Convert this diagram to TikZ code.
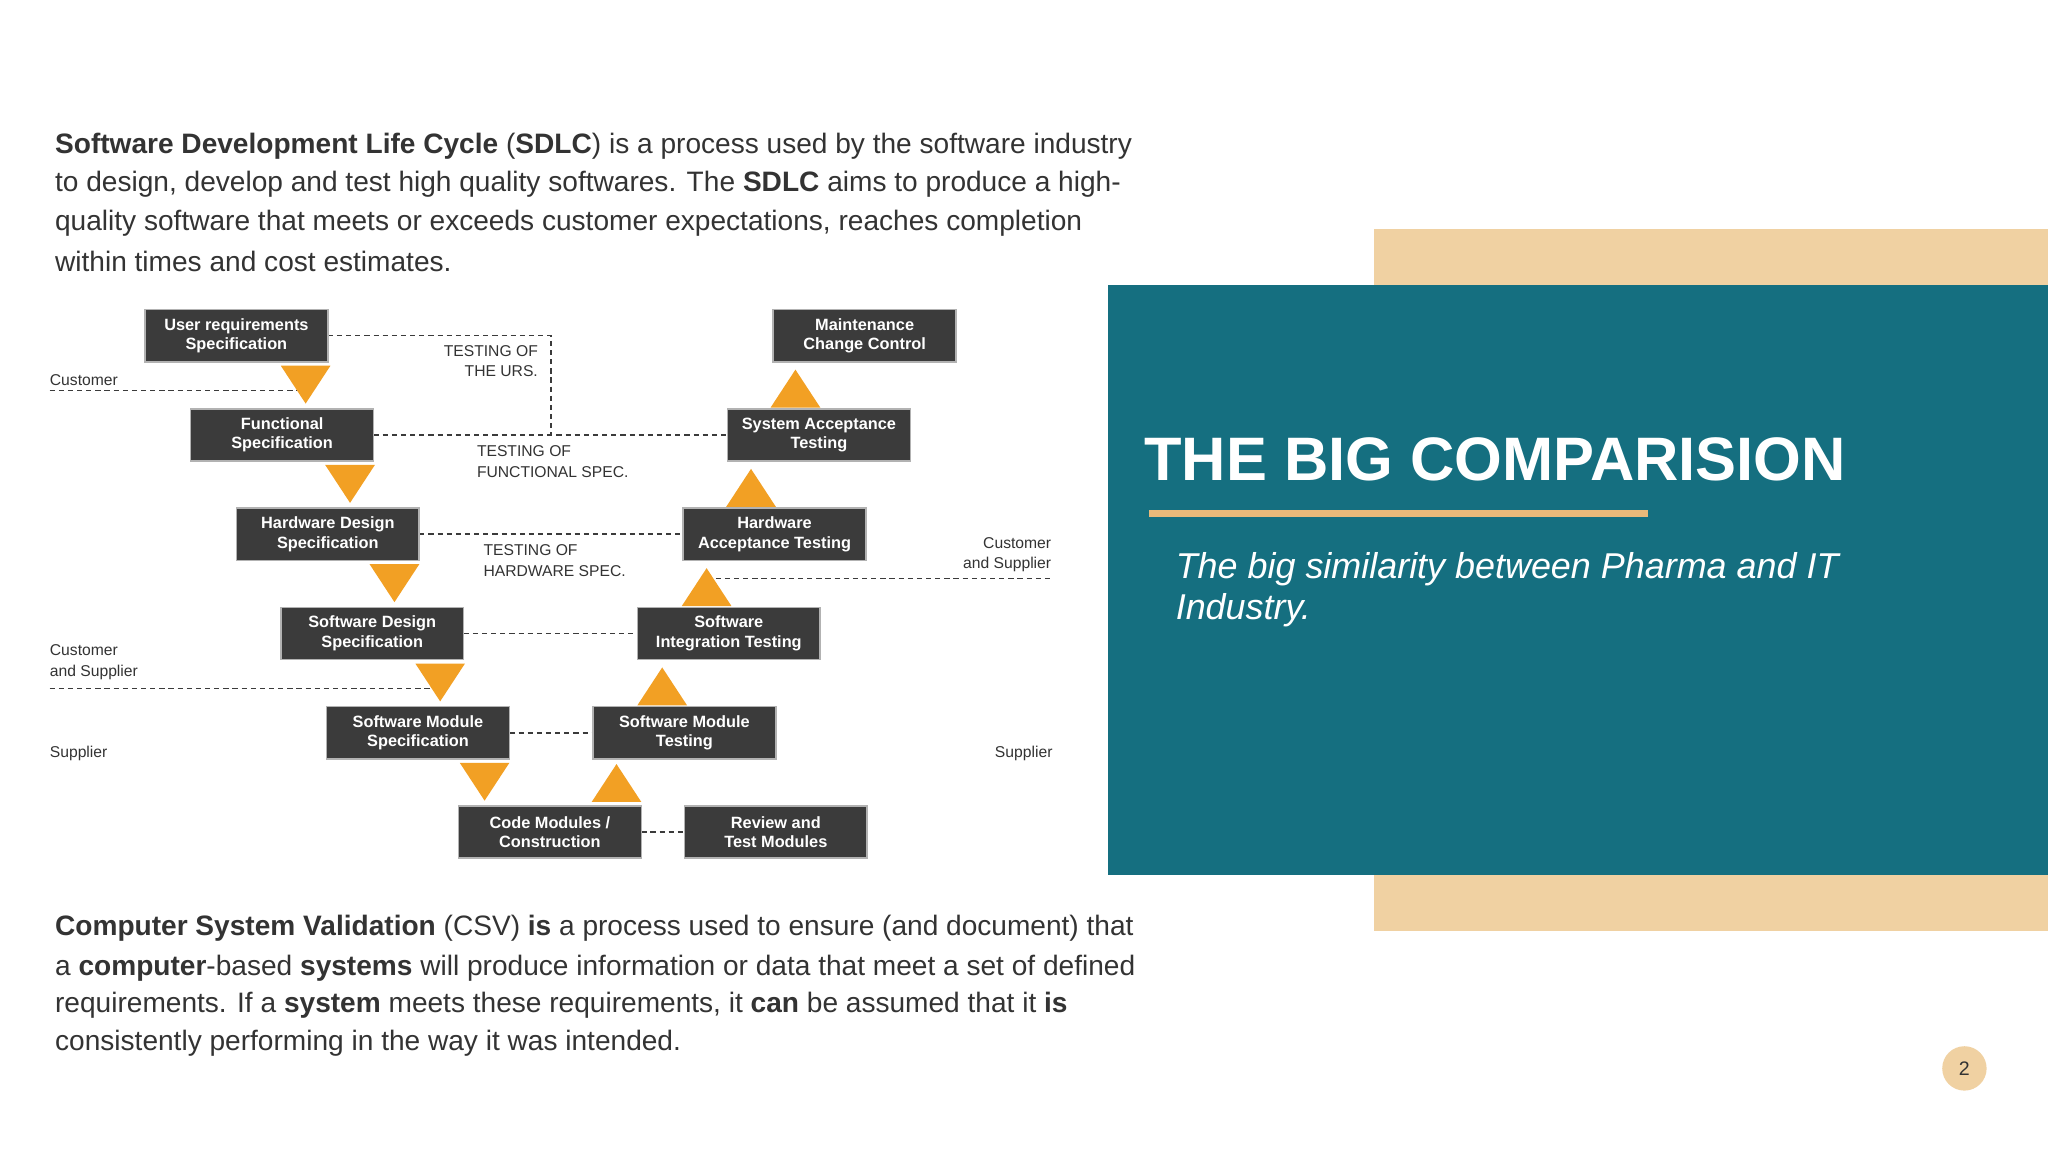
\documentclass[tikz,border=0pt]{standalone}
\usepackage{fontspec}
\setmainfont{Liberation Sans}
\usetikzlibrary{shapes.geometric}
\definecolor{teal}{HTML}{156F80}
\definecolor{beige}{HTML}{F0D1A2}
\definecolor{ulin}{HTML}{E9B97A}
\definecolor{txt}{HTML}{333333}
\definecolor{boxc}{HTML}{3B3B3B}
\definecolor{tri}{HTML}{F2A024}
\tikzset{
 para/.style={anchor=west,inner sep=0,text=txt,font=\fontsize{21.5}{26}\selectfont},
 vbox/.style={draw=gray!60,line width=1.2pt,fill=boxc,text=white,minimum width=140pt,minimum height=40pt,align=center,inner sep=0,font=\bfseries\fontsize{12.5}{15}\selectfont},
 lab/.style={inner sep=0,text=txt,font=\fontsize{12}{16}\selectfont},
 dl/.style={dashed,line width=1.2pt,draw=boxc,dash pattern=on 4pt off 3pt},
}
\begin{document}
\begin{tikzpicture}[x=1pt,y=-1pt]
\useasboundingbox (0,0) rectangle (1568,882);
\fill[white] (0,0) rectangle (1568,882);
% right panel
\fill[beige] (1052,175) rectangle (1568,713);
\fill[teal] (848,218) rectangle (1568,670);
\node[anchor=west,inner sep=0,text=white,font=\bfseries\fontsize{47}{50}\selectfont] (title) at (876,352) {THE BIG COMPARISION};
\draw[ulin,line width=5pt] (880,393) -- (1262,393);
\node[anchor=north west,inner sep=0,text=white,align=left,font=\itshape\fontsize{27.5}{31.5}\selectfont] (sub) at (900,423) {The big similarity between Pharma and IT\\Industry.};
\node[circle,fill=beige,minimum size=34pt,inner sep=0,text=txt,font=\fontsize{15}{15}\selectfont] (pg) at (1504,818) {2};
% paragraphs
\node[para] (p1) at (42,112) {\textbf{Software Development Life Cycle} (\textbf{SDLC}) is a process used by the software industry};
\node[para] (p2) at (42,141) {to design, develop and test high quality softwares. The \textbf{SDLC} aims to produce a high-};
\node[para] (p3) at (42,171) {quality software that meets or exceeds customer expectations, reaches completion};
\node[para] (p4) at (42,200) {within times and cost estimates.};
\node[para] (q1) at (42,711) {\textbf{Computer System Validation} (CSV) \textbf{is} a process used to ensure (and document) that};
\node[para] (q2) at (42,741) {a \textbf{computer}-based \textbf{systems} will produce information or data that meet a set of defined};
\node[para] (q3) at (42,770) {requirements. If a \textbf{system} meets these requirements, it \textbf{can} be assumed that it \textbf{is}};
\node[para] (q4) at (42,799) {consistently performing in the way it was intended.};
% dashed lines
\coordinate (c1) at (422,257);
\coordinate (c2) at (422,333);
\draw[dl] (181,257) -- (c1) -- (c2);
\draw[dl] (216,333) -- (627,333);
\draw[dl] (251,409) -- (593,409);
\draw[dl] (285,485) -- (558,485);
\draw[dl] (320,561) -- (524,561);
\draw[dl] (421,637) -- (594,637);
\coordinate (l1a) at (38,299); \coordinate (l1b) at (228,299);
\draw[dl] (l1a) -- (l1b);
\coordinate (l2a) at (38,527); \coordinate (l2b) at (330,527);
\draw[dl] (l2a) -- (l2b);
\coordinate (l3a) at (548,443); \coordinate (l3b) at (806,443);
\draw[dl] (l3a) -- (l3b);
% triangles
\foreach \x/\y in {234/280,268/356,302/432,337/508,371/584}
  \fill[tri] (\x-19,\y) -- (\x+19,\y) -- (\x,\y+29) -- cycle;
\foreach \x/\y in {472/614,507/540,541/464,575/388,609/312}
  \fill[tri] (\x-19,\y) -- (\x+19,\y) -- (\x,\y-29) -- cycle;
% boxes
\node[vbox] (urs) at (181,257) {User requirements\\Specification};
\node[vbox] (fs) at (216,333) {Functional\\Specification};
\node[vbox] (hds) at (251,409) {Hardware Design\\Specification};
\node[vbox] (sds) at (285,485) {Software Design\\Specification};
\node[vbox] (sms) at (320,561) {Software Module\\Specification};
\node[vbox] (cm) at (421,637) {Code Modules /\\Construction};
\node[vbox] (rt) at (594,637) {Review and\\Test Modules};
\node[vbox] (smt) at (524,561) {Software Module\\Testing};
\node[vbox] (sit) at (558,485) {Software\\Integration Testing};
\node[vbox] (hat) at (593,409) {Hardware\\Acceptance Testing};
\node[vbox] (sat) at (627,333) {System Acceptance\\Testing};
\node[vbox] (mcc) at (662,257) {Maintenance\\Change Control};
% labels
\node[lab,anchor=north east,align=right] (t1) at (412,264) {TESTING OF\\THE URS.};
\node[lab,anchor=north west,align=left] (t2) at (365,341) {TESTING OF\\FUNCTIONAL SPEC.};
\node[lab,anchor=north west,align=left] (t3) at (370,417) {TESTING OF\\HARDWARE SPEC.};
\node[lab,anchor=west] (cu) at (38,291) {Customer};
\node[lab,anchor=north west,align=left] (cs) at (38,493) {Customer\\and Supplier};
\node[lab,anchor=west] (su) at (38,577) {Supplier};
\node[lab,anchor=north east,align=right] (cs2) at (805,411) {Customer\\and Supplier};
\node[lab,anchor=east] (su2) at (806,577) {Supplier};
\end{tikzpicture}
\end{document}
